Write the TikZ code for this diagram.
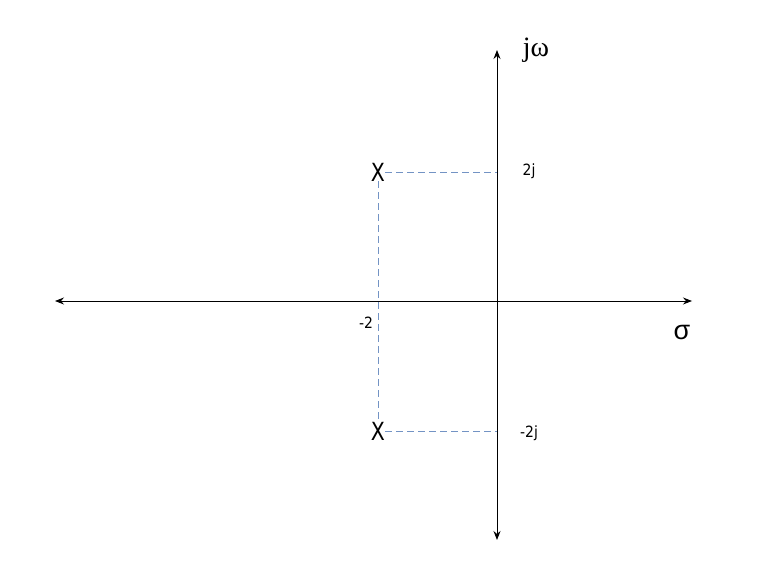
\documentclass[tikz,border=0pt]{standalone}
\usepackage{fontspec}
\setmainfont{Liberation Sans}
\newfontfamily\serifface{Liberation Serif}
\newfontfamily\dvface{DejaVu Sans}
\usetikzlibrary{arrows.meta}
\definecolor{dashblue}{HTML}{7393C4}
\begin{document}
\begin{tikzpicture}[x=1pt,y=-1pt,
  axis/.style={line width=0.9pt,black,{Stealth[length=9pt,width=7pt,inset=3pt]}-{Stealth[length=9pt,width=7pt,inset=3pt]}},
  guide/.style={dashblue,line width=0.8pt,dash pattern=on 7pt off 4pt},
  pole/.style={inner sep=0pt,font=\dvface\fontsize{25}{25}\selectfont},
  numlbl/.style={inner sep=0pt,font=\dvface\fontsize{15.5}{15.5}\selectfont},
  axlbl/.style={inner sep=0pt,font=\fontsize{27}{27}\selectfont}]
\useasboundingbox (0,0) rectangle (758,572);
\coordinate (hl) at (55,301);
\coordinate (hr) at (692,301);
\coordinate (vt) at (497,50);
\coordinate (vb) at (497,540);
\coordinate (a2) at (497,172);
\coordinate (am2) at (497,431);
\draw[axis] (hl) -- (hr);
\draw[axis] (vb) -- (vt);
\node[pole] (p1) at (378,172) {\scalebox{0.82}[1]{X}};
\node[pole] (p2) at (378,431) {\scalebox{0.82}[1]{X}};
\draw[guide] (p1.east) -- (a2);
\draw[guide] (p2.east) -- (am2);
\draw[guide] (p1.south) -- (p2.north);
\node[axlbl,font=\serifface\fontsize{28}{28}\selectfont] (jw) at (536,50) {jω};
\node[axlbl] (sig) at (682,332) {σ};
\node[numlbl] (l2j) at (529,171) {\scalebox{0.9}[1]{2j}};
\node[numlbl] (lm2j) at (529,433) {\scalebox{0.9}[1]{-2j}};
\node[numlbl] (lm2) at (366,323) {\scalebox{0.9}[1]{-2}};
\end{tikzpicture}
\end{document}
